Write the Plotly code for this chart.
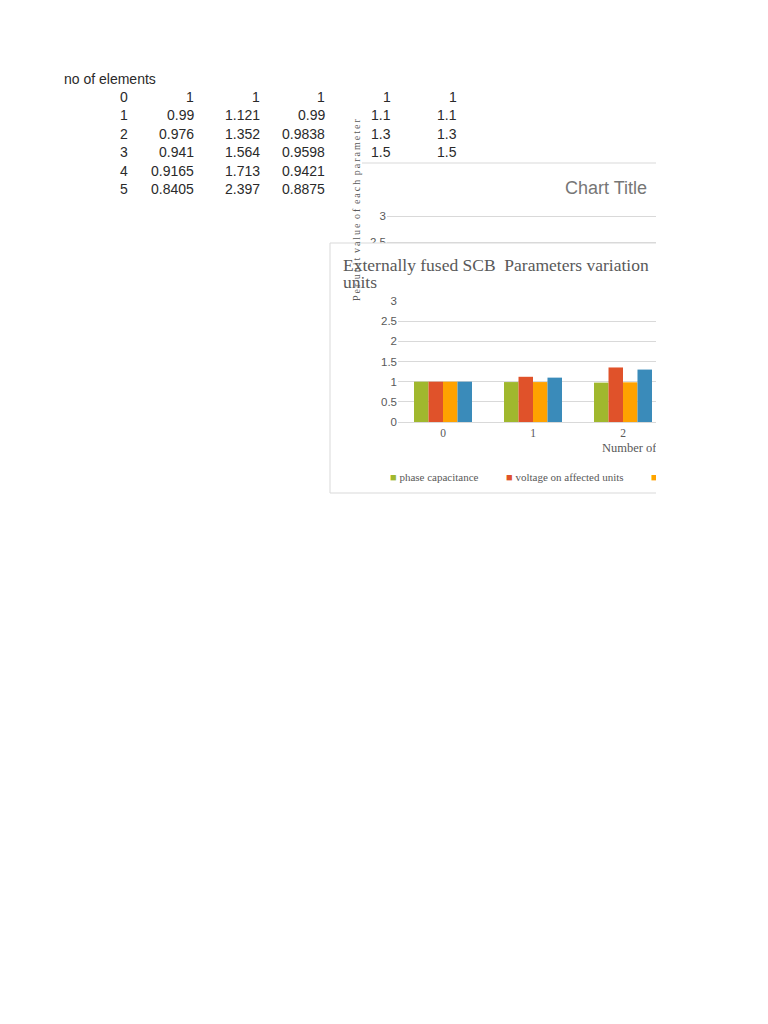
import plotly.graph_objects as go

##### data
no_of_elements = [0, 1, 2, 3, 4, 5]
phase_capacitance = [1, 0.99, 0.976, 0.941, 0.9165, 0.8405]
voltage_affected = [1, 1.121, 1.352, 1.564, 1.713, 2.397]
third_col = [1, 0.99, 0.9838, 0.9598, 0.9421, 0.8875]
fourth_col = [1, 1.1, 1.3, 1.5]
fifth_col = [1, 1.1, 1.3, 1.5]

series_names = ['phase capacitance', 'voltage on affected units',
                'current in healthy units', 'neutral unbalance']
series_colors = ['#A0B82E', '#E0522A', '#FFA200', '#3A8BBA']
series_values = [phase_capacitance, voltage_affected, third_col, fourth_col]

##### page size in px (the window is 768 wide, everything right of 656 is blank)
OFF = 8          # the page body margin
W, H = 656 - OFF, 1000

def px(x):
    return (x - OFF) / W

def py(y):
    return 1 - (y - OFF) / H

GRID = '#D9D9D9'
TXT = '#595959'

fig = go.Figure()

# front chart bars
for name, color, vals in zip(series_names, series_colors, series_values):
    fig.add_trace(go.Bar(x=no_of_elements[:len(vals)], y=vals, name=name,
                         marker=dict(color=color, line=dict(width=0)),
                         showlegend=False))

# back chart ("Chart Title") - only its top gridlines peek out
fig.add_trace(go.Scatter(x=[], y=[], xaxis='x2', yaxis='y2', showlegend=False))

annotations = []

##### the worksheet table
annotations.append(dict(text='no of elements', x=px(62), y=py(79), xanchor='left'))
table_cols = [no_of_elements, phase_capacitance, voltage_affected, third_col, fourth_col, fifth_col]
col_right = [130, 196, 262, 327, 393, 459]
for col, xr in zip(table_cols, col_right):
    for i, v in enumerate(col):
        annotations.append(dict(text=f'{v:g}', x=px(xr), y=py(97 + 18.4 * i), xanchor='right'))
for a in annotations:
    a.update(xref='paper', yref='paper', yanchor='middle', showarrow=False,
             font=dict(family='Liberation Sans', size=14, color='#2a2a2a'))

##### chart texts
def note(text, x, y, size, family='Liberation Serif', color=TXT, xanchor='left', **kw):
    annotations.append(dict(text=text, x=px(x), y=py(y), xref='paper', yref='paper',
                            xanchor=xanchor, yanchor='middle', showarrow=False,
                            font=dict(family=family, size=size, color=color), **kw))

note('Chart Title', 606, 188, 18, family='Liberation Sans', color='#767676', xanchor='center')
note('Externally fused SCB \u00a0Parameters variation', 341, 265, 17.5)
note('units', 341, 282, 17.5)
note('Number of', 600, 448, 12.5)

# legend drawn by hand so it clips like the sheet does (third entry only shows its swatch)
legend_x = [388, 504, 649]
for k, (name, color, lx) in enumerate(zip(series_names, series_colors, legend_x)):
    label = f"<span style='color:{color}'>\u25a0</span>"
    if k < 2:
        label += f' {name}'
    note(label, lx, 477, 11)

# y axis title of the chart behind, it sits on top of everything (letter spaced)
title_txt = ' \u2009'.join('\u2009'.join(w) for w in 'Per unit value of each parameter'.split())
note(title_txt, 357, 210, 10, xanchor='center', textangle=-90)

shapes = [
    # back chart frame top
    dict(type='line', x0=px(362), x1=px(720), y0=py(163), y1=py(163),
         line=dict(color=GRID, width=1)),
    # front chart hides lower half of the back chart's 2.5 label
    dict(type='rect', x0=px(366), x1=px(387), y0=py(243), y1=py(252),
         fillcolor='white', line=dict(width=0), layer='above'),
    # front chart frame
    dict(type='rect', x0=px(330), x1=px(720), y0=py(243), y1=py(493),
         line=dict(color=GRID, width=1), layer='above'),
]
for s in shapes:
    s.update(xref='paper', yref='paper')

fig.update_layout(
    width=W, height=H,
    margin=dict(l=0, r=0, t=0, b=0, autoexpand=False),
    paper_bgcolor='white', plot_bgcolor='white',
    barmode='group', bargap=0.356, bargroupgap=0,
    hovermode=False,
    xaxis=dict(domain=[px(398), 1.0], range=[-0.5, (656 - 398) / 90 - 0.5],
               tickvals=no_of_elements, ticks='', showgrid=False, zeroline=False,
               showline=True, linecolor=GRID, linewidth=1,
               tickfont=dict(family='Liberation Serif', size=11.5, color=TXT)),
    yaxis=dict(domain=[py(422), py(301)], range=[0, 3], dtick=0.5, tick0=0,
               ticks='', showgrid=True, gridcolor=GRID, zeroline=False, showline=False,
               tickfont=dict(family='Liberation Sans', size=11.5, color=TXT)),
    xaxis2=dict(domain=[px(387), 1.0], range=[0, 1], visible=False, anchor='y2'),
    yaxis2=dict(domain=[py(243), py(200)], range=[2.5 - 1 / 52, 3 + 16 / 52],
                dtick=0.5, tick0=0, ticks='', showgrid=True, gridcolor=GRID,
                zeroline=False, showline=False, anchor='x2',
                tickfont=dict(family='Liberation Sans', size=11.5, color=TXT)),
    annotations=annotations,
    shapes=shapes,
)

fig.write_html('out.html')
